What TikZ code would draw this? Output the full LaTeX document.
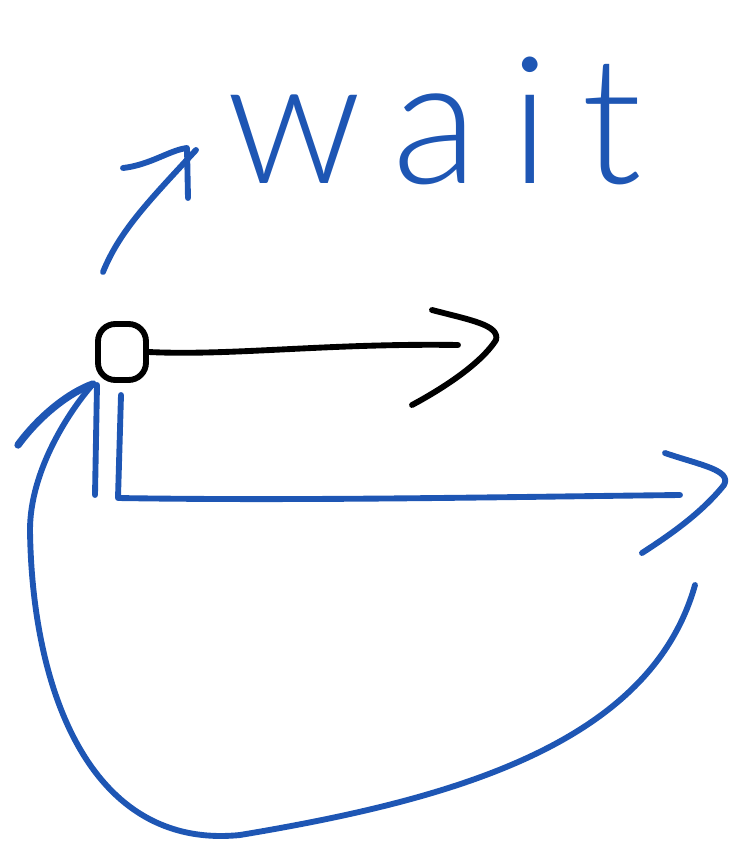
\documentclass[tikz,border=0pt]{standalone}
\usepackage{fontspec}
\newfontfamily\waitfont{Lato Light}[LetterSpace=18]
\definecolor{pen}{RGB}{30,86,180}
\begin{document}
\begin{tikzpicture}[x=0.75pt,y=-0.75pt,
  stroke/.style={line width=4.4pt,line cap=round,line join=round},
  bluestroke/.style={stroke,draw=pen},
  blackstroke/.style={stroke,draw=black}]
\useasboundingbox (0,0) rectangle (732,850);
% text
\node[anchor=base west,inner sep=0pt,text=pen] (wait) at (226,183)
  {\waitfont\fontsize{133pt}{140pt}\selectfont wait};
% small box
\node[draw=black,line width=4.4pt,rounded corners=13pt,minimum width=36pt,
  minimum height=42pt,inner sep=0pt] (box) at (122,352) {};
% black arrow
\coordinate (btip) at (458,345);
\coordinate (bh1) at (432,310);
\coordinate (bh2) at (496,340);
\coordinate (bh3) at (412,405);
\draw[blackstroke] (box.east) .. controls (230,356) and (330,343) .. (btip);
\draw[blackstroke] (bh1) .. controls (470,320) and (500,325) .. (bh2)
  .. controls (480,365) and (440,390) .. (bh3);
% blue up arrow
\coordinate (us) at (103,272);
\coordinate (ue) at (196,150);
\coordinate (uh1) at (123,168);
\coordinate (uh2) at (187,148);
\coordinate (uh3) at (188,198);
\draw[bluestroke] (us) .. controls (120,230) and (150,200) .. (ue);
\draw[bluestroke] (uh1) .. controls (150,165) and (170,150) .. (uh2) -- (uh3);
% left vertical
\coordinate (lv1) at (97,385);
\coordinate (lv2) at (95,495);
\draw[bluestroke] (lv1) -- (lv2);
% L arrow
\coordinate (L1) at (121,395);
\coordinate (L2) at (118,498);
\coordinate (L3) at (680,495);
\coordinate (Lh1) at (665,453);
\coordinate (Lh2) at (724,485);
\coordinate (Lh3) at (642,553);
\draw[bluestroke] (L1) -- (L2) .. controls (300,501) and (500,497) .. (L3);
\draw[bluestroke] (Lh1) .. controls (700,465) and (732,470) .. (Lh2)
  .. controls (700,515) and (665,538) .. (Lh3);
% big loop
\coordinate (c0) at (695,585);
\coordinate (c1) at (240,835);
\coordinate (c2) at (30,530);
\coordinate (ctip) at (93,384);
\coordinate (barb) at (18,445);
\draw[bluestroke] (c0) .. controls (650,745) and (450,800) .. (c1)
  .. controls (90,850) and (32,690) .. (c2)
  .. controls (30,470) and (70,410) .. (ctip);
\draw[bluestroke,line width=5.5pt] (barb) .. controls (40,415) and (70,392) .. (ctip);
\end{tikzpicture}
\end{document}
